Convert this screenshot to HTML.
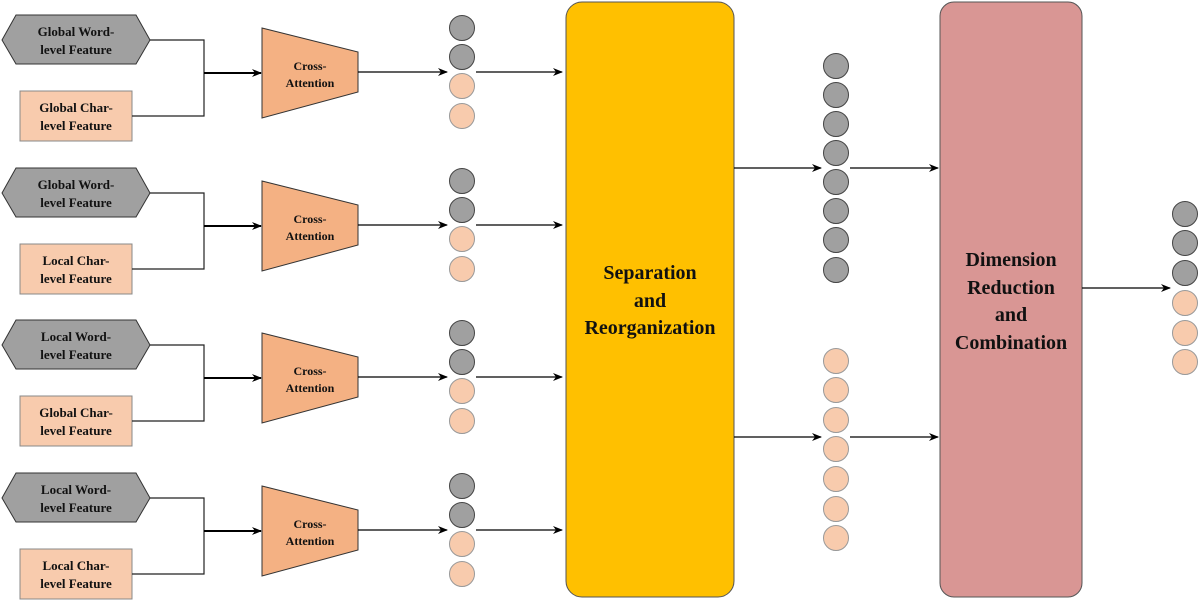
<!DOCTYPE html>
<html><head><meta charset="utf-8"><style>
html,body{margin:0;padding:0;background:#fff;}
svg{display:block;}
text{font-family:"Liberation Serif",serif;font-weight:bold;fill:#111;text-anchor:middle;}
</style></head><body>
<svg width="1200" height="603" viewBox="0 0 1200 603" xmlns="http://www.w3.org/2000/svg">
<defs>
<marker id="a" markerWidth="10" markerHeight="8" refX="9" refY="4" orient="auto" markerUnits="userSpaceOnUse">
<path d="M0,0 L10,4 L0,8 L3,4 Z" fill="#000"/></marker>
<g id="row">
<polygon points="2,40 16,15 136,15 150,40 136,64 16,64" fill="#a0a0a0" stroke="#333" stroke-width="1"/>
<rect x="20" y="91" width="112" height="50" fill="#f8cbad" stroke="#888" stroke-width="1"/>
<polyline points="150,40 204,40 204,116 132,116" fill="none" stroke="#222" stroke-width="1.2"/>
<line x1="204" y1="73" x2="261" y2="73" stroke="#000" stroke-width="2" marker-end="url(#a)"/>
<polygon points="262,28 358,52 358,92 262,118" fill="#f4b183" stroke="#333" stroke-width="1"/>
<text x="310" y="70" font-size="12">Cross-</text>
<text x="310" y="87" font-size="12">Attention</text>
<line x1="358" y1="72" x2="447" y2="72" stroke="#000" stroke-width="1.3" marker-end="url(#a)"/>
<circle cx="462" cy="28" r="12.5" fill="#a0a0a0" stroke="#444"/>
<circle cx="462" cy="57" r="12.5" fill="#a0a0a0" stroke="#444"/>
<circle cx="462" cy="86" r="12.5" fill="#f8cbad" stroke="#999"/>
<circle cx="462" cy="116" r="12.5" fill="#f8cbad" stroke="#999"/>
<line x1="476" y1="72" x2="562" y2="72" stroke="#000" stroke-width="1.3" marker-end="url(#a)"/>
</g>
</defs>
<use href="#row" transform="translate(0,0)"/>
<use href="#row" transform="translate(0,153)"/>
<use href="#row" transform="translate(0,305)"/>
<use href="#row" transform="translate(0,458)"/>
<g font-size="13">
<text x="76" y="36">Global Word-</text><text x="76" y="54">level Feature</text>
<text x="76" y="112">Global Char-</text><text x="76" y="130">level Feature</text>
<text x="76" y="189">Global Word-</text><text x="76" y="207">level Feature</text>
<text x="76" y="265">Local Char-</text><text x="76" y="283">level Feature</text>
<text x="76" y="341">Local Word-</text><text x="76" y="359">level Feature</text>
<text x="76" y="417">Global Char-</text><text x="76" y="435">level Feature</text>
<text x="76" y="494">Local Word-</text><text x="76" y="512">level Feature</text>
<text x="76" y="570">Local Char-</text><text x="76" y="588">level Feature</text>
</g>
<rect x="566" y="2" width="168" height="595" rx="16" fill="#ffc000" stroke="#555" stroke-width="1"/>
<text x="650" y="279" font-size="20">Separation</text>
<text x="650" y="307" font-size="20">and</text>
<text x="650" y="334" font-size="20">Reorganization</text>
<rect x="940" y="2" width="142" height="595" rx="14" fill="#d99694" stroke="#555" stroke-width="1"/>
<text x="1011" y="266" font-size="20">Dimension</text>
<text x="1011" y="294" font-size="20">Reduction</text>
<text x="1011" y="321" font-size="20">and</text>
<text x="1011" y="349" font-size="20">Combination</text>
<g stroke="#444">
<circle cx="836" cy="66" r="12.5" fill="#a0a0a0"/>
<circle cx="836" cy="95" r="12.5" fill="#a0a0a0"/>
<circle cx="836" cy="124" r="12.5" fill="#a0a0a0"/>
<circle cx="836" cy="153" r="12.5" fill="#a0a0a0"/>
<circle cx="836" cy="182" r="12.5" fill="#a0a0a0"/>
<circle cx="836" cy="211" r="12.5" fill="#a0a0a0"/>
<circle cx="836" cy="240" r="12.5" fill="#a0a0a0"/>
<circle cx="836" cy="270" r="12.5" fill="#a0a0a0"/>
</g>
<g stroke="#999" fill="#f8cbad">
<circle cx="836" cy="361" r="12.5"/>
<circle cx="836" cy="390" r="12.5"/>
<circle cx="836" cy="420" r="12.5"/>
<circle cx="836" cy="449" r="12.5"/>
<circle cx="836" cy="479" r="12.5"/>
<circle cx="836" cy="509" r="12.5"/>
<circle cx="836" cy="538" r="12.5"/>
</g>
<g stroke="#000" stroke-width="1.3">
<line x1="734" y1="168" x2="821" y2="168" marker-end="url(#a)"/>
<line x1="850" y1="168" x2="938" y2="168" marker-end="url(#a)"/>
<line x1="734" y1="437" x2="821" y2="437" marker-end="url(#a)"/>
<line x1="850" y1="437" x2="938" y2="437" marker-end="url(#a)"/>
<line x1="1082" y1="288" x2="1170" y2="288" marker-end="url(#a)"/>
</g>
<g stroke="#444" fill="#a0a0a0">
<circle cx="1185" cy="214" r="12.5"/>
<circle cx="1185" cy="243" r="12.5"/>
<circle cx="1185" cy="273" r="12.5"/>
</g>
<g stroke="#999" fill="#f8cbad">
<circle cx="1185" cy="303" r="12.5"/>
<circle cx="1185" cy="333" r="12.5"/>
<circle cx="1185" cy="362" r="12.5"/>
</g>
</svg>
</body></html>
